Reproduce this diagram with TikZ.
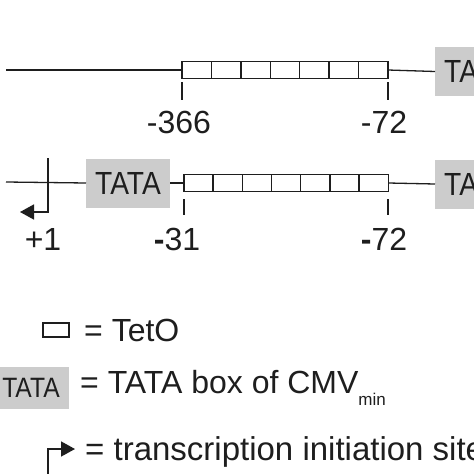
\documentclass[tikz,border=0pt]{standalone}
\usepackage{fontspec}
\setmainfont{Liberation Sans}
\usetikzlibrary{arrows.meta}
\definecolor{tatagray}{RGB}{204,204,204}
\definecolor{ink}{RGB}{30,30,30}
\newcommand{\narrow}[1]{\scalebox{0.88}[1]{#1}}
\begin{document}
\begin{tikzpicture}[x=1pt,y=-1pt,
  dna/.style={line width=1.3pt,draw=ink},
  tetobox/.style={draw=ink,line width=1.3pt,minimum width=29.4pt,minimum height=17pt,inner sep=0pt,outer sep=0pt,anchor=west},
  tatabox/.style={fill=tatagray,minimum width=84pt,minimum height=49pt,inner sep=0pt,outer sep=0pt,text=ink,font=\fontsize{32}{32}\selectfont},
  lbl/.style={text=ink,font=\fontsize{32}{32}\selectfont,inner sep=0pt},
  tick/.style={line width=1.3pt,draw=ink},
  tss/.style={line width=1.6pt,draw=ink,-{Triangle[length=14pt,width=15pt]}}
]
\useasboundingbox (0,0) rectangle (474,474);
\fill[white] (0,0) rectangle (474,474);

% ---------- row 1 ----------
\coordinate (r1s) at (6,70);
\foreach \i in {0,...,6} \node[tetobox] (a\i) at (182+\i*29.43,70) {};
\node[tatabox,anchor=west] (t1) at (435,71.5) {\narrow{TATA}};
\draw[dna] (r1s) -- (a0.west);
\draw[dna] (a6.east) -- (t1.west);
\coordinate (k1a) at (182,82); \coordinate (k1b) at (182,100);
\coordinate (k2a) at (388,82); \coordinate (k2b) at (388,100);
\draw[tick] (k1a) -- (k1b);
\draw[tick] (k2a) -- (k2b);
\node[lbl] (l366) at (179,122) {-366};
\node[lbl] (l72a) at (384,122) {-72};

% ---------- row 2 ----------
\coordinate (r2s) at (6,182);
\node[tatabox] (t2) at (128,183) {\narrow{TATA}};
\foreach \i in {0,...,6} \node[tetobox] (b\i) at (184+\i*29.14,183) {};
\node[tatabox,anchor=west] (t3) at (435,184) {\narrow{TATA}};
\draw[dna] (r2s) -- (t2.west);
\draw[dna] (t2.east) -- (b0.west);
\draw[dna] (b6.east) -- (t3.west);
\coordinate (k3a) at (184,199); \coordinate (k3b) at (184,215);
\coordinate (k4a) at (388,199); \coordinate (k4b) at (388,215);
\draw[tick] (k3a) -- (k3b);
\draw[tick] (k4a) -- (k4b);
\coordinate (s1) at (48,158);
\coordinate (s2) at (48,212);
\coordinate (s3) at (20,212);
\draw[tss] (s1) -- (s2) -- (s3);
\node[lbl] (lp1) at (43,239) {+1};
\node[lbl] (l31) at (177,239) {{\bfseries -}31};
\node[lbl] (l72b) at (384,239) {{\bfseries -}72};

% ---------- legend ----------
\node[draw=ink,line width=1.3pt,minimum width=26pt,minimum height=14pt,inner sep=0pt] (lgbox) at (56,330) {};
\node[lbl,anchor=west] (lgt1) at (84,330) {= TetO};
\node[fill=tatagray,minimum width=82pt,minimum height=42pt,inner sep=0pt] (lgtata) at (28,388) {};
\node[text=ink,inner sep=0pt,font=\fontsize{28}{28}\selectfont] (lgtatatxt) at (31,388) {\narrow{TATA}};
\node[lbl,anchor=west] (lgt2) at (80,388) {= TATA box of CMV\raisebox{-12pt}{\fontsize{17}{17}\selectfont min}};
\coordinate (u1) at (48,480);
\coordinate (u2) at (48,449);
\coordinate (u3) at (75,449);
\draw[tss] (u1) -- (u2) -- (u3);
\node[lbl,anchor=west,font=\fontsize{33}{33}\selectfont] (lgt3) at (85,452) {= transcription initiation site};
\end{tikzpicture}
\end{document}
